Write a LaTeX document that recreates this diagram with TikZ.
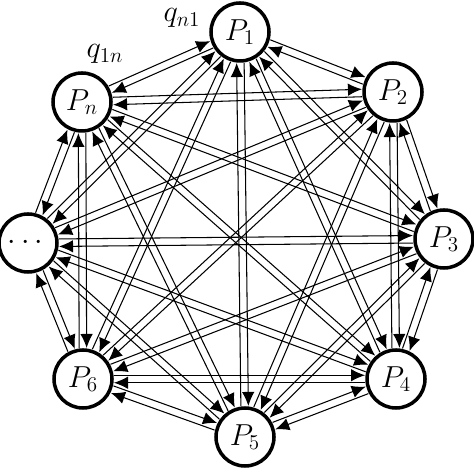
\documentclass[tikz,border=0pt]{standalone}
\usepackage{amsmath}
\usetikzlibrary{arrows.meta,calc}
\tikzset{
  pnode/.style={circle,draw=black,line width=2pt,minimum size=1.16cm,inner sep=0pt,font=\LARGE}, % process
  flow/.style={-{Latex[length=2.8mm,width=2.5mm]},line width=0.6pt,shorten <=0.62cm,shorten >=0.62cm},
  qlab/.style={font=\LARGE,inner sep=1pt},
}
\begin{document}
\begin{tikzpicture}
  \useasboundingbox (0,0) rectangle (9.48,9.48);
  \node[pnode] (p1) at (4.80,8.84) {$P_1$};
  \node[pnode] (p2) at (7.86,7.64) {$P_2$};
  \node[pnode] (p3) at (8.88,4.70) {$P_3$};
  \node[pnode] (p4) at (7.92,1.90) {$P_4$};
  \node[pnode] (p5) at (4.90,0.74) {$P_5$};
  \node[pnode] (p6) at (1.66,1.90) {$P_6$};
  \node[pnode] (p7) at (0.56,4.62) {$\cdots$};
  \node[pnode] (p8) at (1.64,7.44) {$P_n$};
  % one arrow per ordered pair, shifted to its left
  \foreach \i in {1,...,8}
    \foreach \j in {1,...,8} {
      \ifnum\i=\j\else
        \draw[flow] ($(p\i.center)!0.075cm!90:(p\j.center)$) -- ($(p\j.center)!0.075cm!-90:(p\i.center)$);
      \fi
    }
  \node[qlab] (qn1) at (3.64,9.12) {$q_{n1}$};
  \node[qlab] (q1n) at (2.10,8.40) {$q_{1n}$};
\end{tikzpicture}
\end{document}
